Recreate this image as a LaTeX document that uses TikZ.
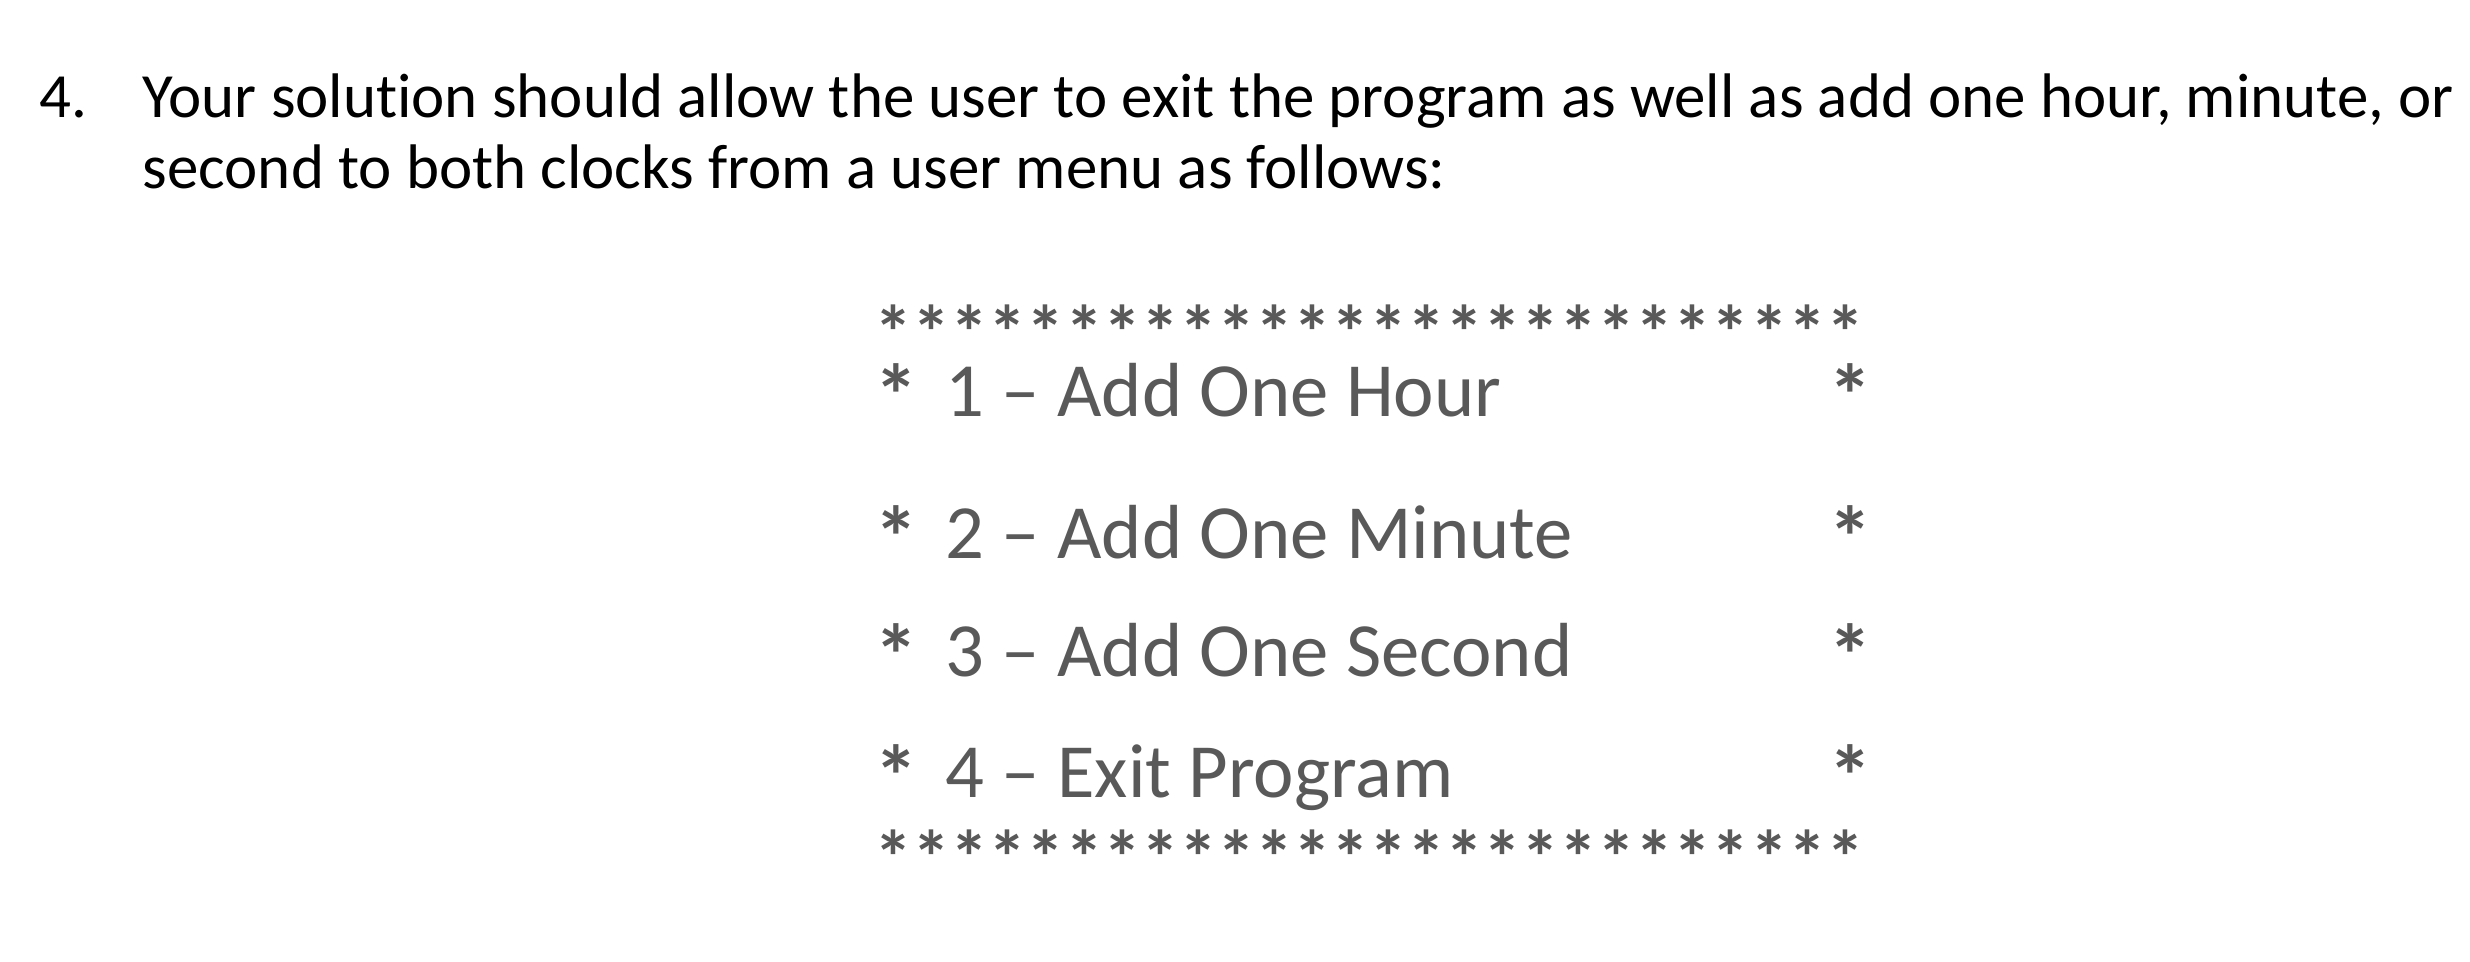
\documentclass[tikz,border=0pt]{standalone}
\usepackage{fontspec}
\setmainfont[Ligatures=NoCommon]{Carlito}
\definecolor{menugray}{HTML}{595959}
\begin{document}
\begin{tikzpicture}[x=0.01cm,y=-0.01cm,
  body/.style={anchor=base west,inner sep=0pt,font=\fontsize{17.9}{21}\selectfont,text=black},
  menu/.style={anchor=base west,inner sep=0pt,font=\fontsize{21.8}{26}\selectfont,text=menugray},
  star/.style={anchor=base west,inner sep=0pt,font=\fontsize{25}{26}\selectfont\bfseries,text=menugray}]
\useasboundingbox (0,0) rectangle (2470,962);
\node[body] (num) at (39,118) {4.};
\node[body] (l1) at (142,118) {Your solution should allow the user to exit the program as well as add one hour, minute, or};
\node[body] (l2) at (142,189) {second to both clocks from a user menu as follows:};
\node[star] (top) at (874,360) {\resizebox{9.89cm}{!}{**************************}};
\node[star] (s1) at (874,427) {*};
\node[menu] (m1) at (945,417) {1 – Add One Hour};
\node[star] (e1) at (1828,427) {*};
\node[star] (s2) at (874,569) {*};
\node[menu] (m2) at (945,559) {2 – Add One Minute};
\node[star] (e2) at (1828,569) {*};
\node[star] (s3) at (874,687) {*};
\node[menu] (m3) at (945,677) {3 – Add One Second};
\node[star] (e3) at (1828,687) {*};
\node[star] (s4) at (874,808) {*};
\node[menu] (m4) at (945,798) {4 – Exit Program};
\node[star] (e4) at (1828,808) {*};
\node[star] (bot) at (874,885) {\resizebox{9.89cm}{!}{**************************}};
\end{tikzpicture}
\end{document}
